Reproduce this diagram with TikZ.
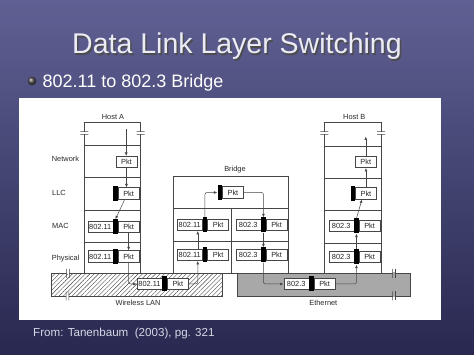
\documentclass[tikz,border=0pt]{standalone}
\usepackage{fontspec}
\setmainfont{Liberation Sans}
\usetikzlibrary{arrows.meta,patterns.meta}
\definecolor{bgtop}{RGB}{96,96,148}
\definecolor{bgbot}{RGB}{40,40,80}
\definecolor{lc}{RGB}{70,70,70}
\definecolor{txt}{RGB}{40,40,40}
\definecolor{ethfill}{RGB}{168,168,168}
\newcommand\dfont{\fontsize{7.4}{9}\selectfont}
\newcommand\mkpkt[4]{%
  \node[hdr,anchor=west] (#1h) at (#2,#3) {#4};
  \node[barnode,anchor=west] (#1b) at (#1h.east) {};
  \node[pkt,anchor=west] (#1p) at (#1b.east) {Pkt};}
\newcommand\mkllc[3]{%
  \node[barnode,anchor=west] (#1b) at (#2,#3) {};
  \node[pkt,anchor=west] (#1p) at (#1b.east) {Pkt};}
\newcommand\sidebreak[2]{%
  \fill[white] (#1-2.5,#2-1.3) rectangle (#1+2.5,#2+1.3);
  \draw[lc,line width=0.5pt] (#1-4,#2-1.3) .. controls (#1-1,#2-3) and (#1+1,#2+0.4) .. (#1+4,#2-1.3);
  \draw[lc,line width=0.5pt] (#1-4,#2+1.3) .. controls (#1-1,#2-0.4) and (#1+1,#2+3) .. (#1+4,#2+1.3);}
\newcommand\lanbreak[3]{%
  \fill[#3] (#1-1.4,#2-1) rectangle (#1+1.4,#2+1);
  \draw[lc,line width=0.5pt] (#1-1.4,#2-4.5) .. controls (#1-0.1,#2-1.5) and (#1-2.7,#2+1.5) .. (#1-1.4,#2+4.5);
  \draw[lc,line width=0.5pt] (#1+1.4,#2-4.5) .. controls (#1+2.7,#2-1.5) and (#1+0.1,#2+1.5) .. (#1+1.4,#2+4.5);}
\begin{document}
\begin{tikzpicture}[x=1pt,y=-1pt,
  ln/.style={draw=lc,line width=0.5pt},
  hdr/.style={draw=lc,line width=0.5pt,fill=white,minimum width=25pt,minimum height=11.5pt,inner sep=0pt,font=\dfont,text=txt},
  barnode/.style={fill=black,minimum width=4.5pt,minimum height=15pt,inner sep=0pt},
  pkt/.style={hdr,minimum width=21pt},
  arr/.style={draw=lc,line width=0.5pt,-{Latex[length=3.5pt,width=2.8pt]}},
  lbl/.style={font=\dfont,text=txt,inner sep=0pt}]
\useasboundingbox (0,0) rectangle (474,355);
% background
\shade[top color=bgtop,bottom color=bgbot] (0,0) rectangle (474,355);
% title
\node[anchor=base,text=black!70,font=\fontsize{28.5}{30}\selectfont,inner sep=0pt] at (238.5,55.5) {Data Link Layer Switching};
\node[anchor=base,text={rgb,255:red,236;green,236;blue,246},font=\fontsize{28.5}{30}\selectfont,inner sep=0pt] (title) at (237,54) {Data Link Layer Switching};
\shade[ball color=gray!60!black] (32,81) circle (4.3);
\node[anchor=base west,text=white,font=\fontsize{18}{20}\selectfont,inner sep=0pt] (sub) at (42.5,87.5) {802.11 to 802.3 Bridge};
\node[anchor=base west,text={rgb,255:red,215;green,215;blue,230},font=\fontsize{11.6}{13}\selectfont,inner sep=0pt] (src) at (33,337) {From: Tanenbaum\ \ (2003), pg. 321};
% white panel
\fill[white] (19,98) rectangle (441,320);
% LANs
\fill[pattern={Lines[angle=45,distance=3.1pt,line width=0.4pt]},pattern color=lc] (51.7,273.3) rectangle (222.7,296);
\draw[ln] (51.7,273.3) rectangle (222.7,296);
\draw[ln,fill=ethfill] (237.3,273.3) rectangle (410,296);
\node[lbl] (wl) at (138,302.5) {Wireless LAN};
\node[lbl] (eth) at (323.3,302.5) {Ethernet};
% Host A
\draw[ln] (84.3,122.3) rectangle (140.7,273.3);
\foreach \yy in {145,177.3,210,242.3} \draw[ln] (84.3,\yy) -- (140.7,\yy);
\node[lbl] (ha) at (113,117) {Host A};
% Bridge
\draw[ln] (173.3,176.7) rectangle (288.3,273.3);
\foreach \yy in {208.3,241} \draw[ln] (173.3,\yy) -- (288.3,\yy);
\draw[ln] (231.7,208.3) -- (231.7,273.3);
\node[lbl] (br) at (235,170) {Bridge};
% Host B
\draw[ln] (324.3,122.3) rectangle (381,273.3);
\foreach \yy in {146,178,210,243} \draw[ln] (324.3,\yy) -- (381,\yy);
\node[lbl] (hb) at (354.3,117.3) {Host B};
% layer labels
\node[lbl,anchor=west] (lnet) at (51.7,159.3) {Network};
\node[lbl,anchor=west] (lllc) at (52,192.5) {LLC};
\node[lbl,anchor=west] (lmac) at (52,226) {MAC};
\node[lbl,anchor=west] (lphy) at (51.7,258.7) {Physical};
% packets Host A
\node[pkt,anchor=west] (aNp) at (115.7,162) {Pkt};
\mkllc{aL}{113}{193.5}
\mkpkt{aM}{87.5}{227}{802.11}
\mkpkt{aP}{87.5}{256.5}{802.11}
% packets Bridge
\mkllc{bL}{217.3}{192.5}
\mkpkt{bM1}{177}{225}{802.11}
\mkpkt{bP1}{177}{255}{802.11}
\mkpkt{bM2}{235.5}{225}{802.3}
\mkpkt{bP2}{235.5}{255}{802.3}
% packets Host B
\node[pkt,anchor=west] (cNp) at (355,162) {Pkt};
\mkllc{cL}{350.3}{193.5}
\mkpkt{cM}{328.5}{226}{802.3}
\mkpkt{cP}{328.5}{257}{802.3}
% packets on the LANs
\mkpkt{wP}{136.7}{284}{802.11}
\mkpkt{eP}{283.5}{284}{802.3}
% connectors
\coordinate (aTop) at (126.2,129);
\coordinate (cTop) at (365.3,136.5);
\draw[arr] (aTop) -- (aTop |- aNp.north);
\draw[arr] (aNp.south) -- (aNp.south |- aLp.north);
\draw[arr] ([xshift=-4pt]aLp.south) -- (aMb.north);
\draw[arr] (aMp.south) -- (aPp.north);
\draw[arr,rounded corners=2pt] (aPp.south) |- (wPh.west);
\draw[arr,rounded corners=2pt] (wPp.east) -| ([xshift=8pt]bP1h.south);
\draw[arr] ([xshift=8pt]bP1h.north) -- ([xshift=8pt]bM1h.south);
\draw[arr,rounded corners=2pt] (bM1b.north) |- (bLb.west);
\draw[arr,rounded corners=2pt] (bLp.east) -| (bM2b.north);
\draw[arr] (bM2b.south) -- (bP2b.north);
\draw[arr,rounded corners=2pt] (bP2b.south) |- (ePh.west);
\draw[arr,rounded corners=2pt] (ePp.east) -| (cPb.south);
\draw[arr] (cPb.north) -- (cMb.south);
\draw[arr] (cMb.north) -- ([xshift=-4pt]cLp.south);
\draw[arr] (cLp.north) -- (cLp.north |- cNp.south);
\draw[arr] (cNp.north) -- (cNp.north |- cTop);
% break marks
\sidebreak{84.3}{133}
\sidebreak{140.7}{133}
\sidebreak{324.3}{133}
\sidebreak{381}{133}
\lanbreak{68}{273.3}{white}
\lanbreak{67.5}{296}{white}
\lanbreak{394}{273.3}{ethfill}
\lanbreak{394}{296}{ethfill}
\end{tikzpicture}
\end{document}
